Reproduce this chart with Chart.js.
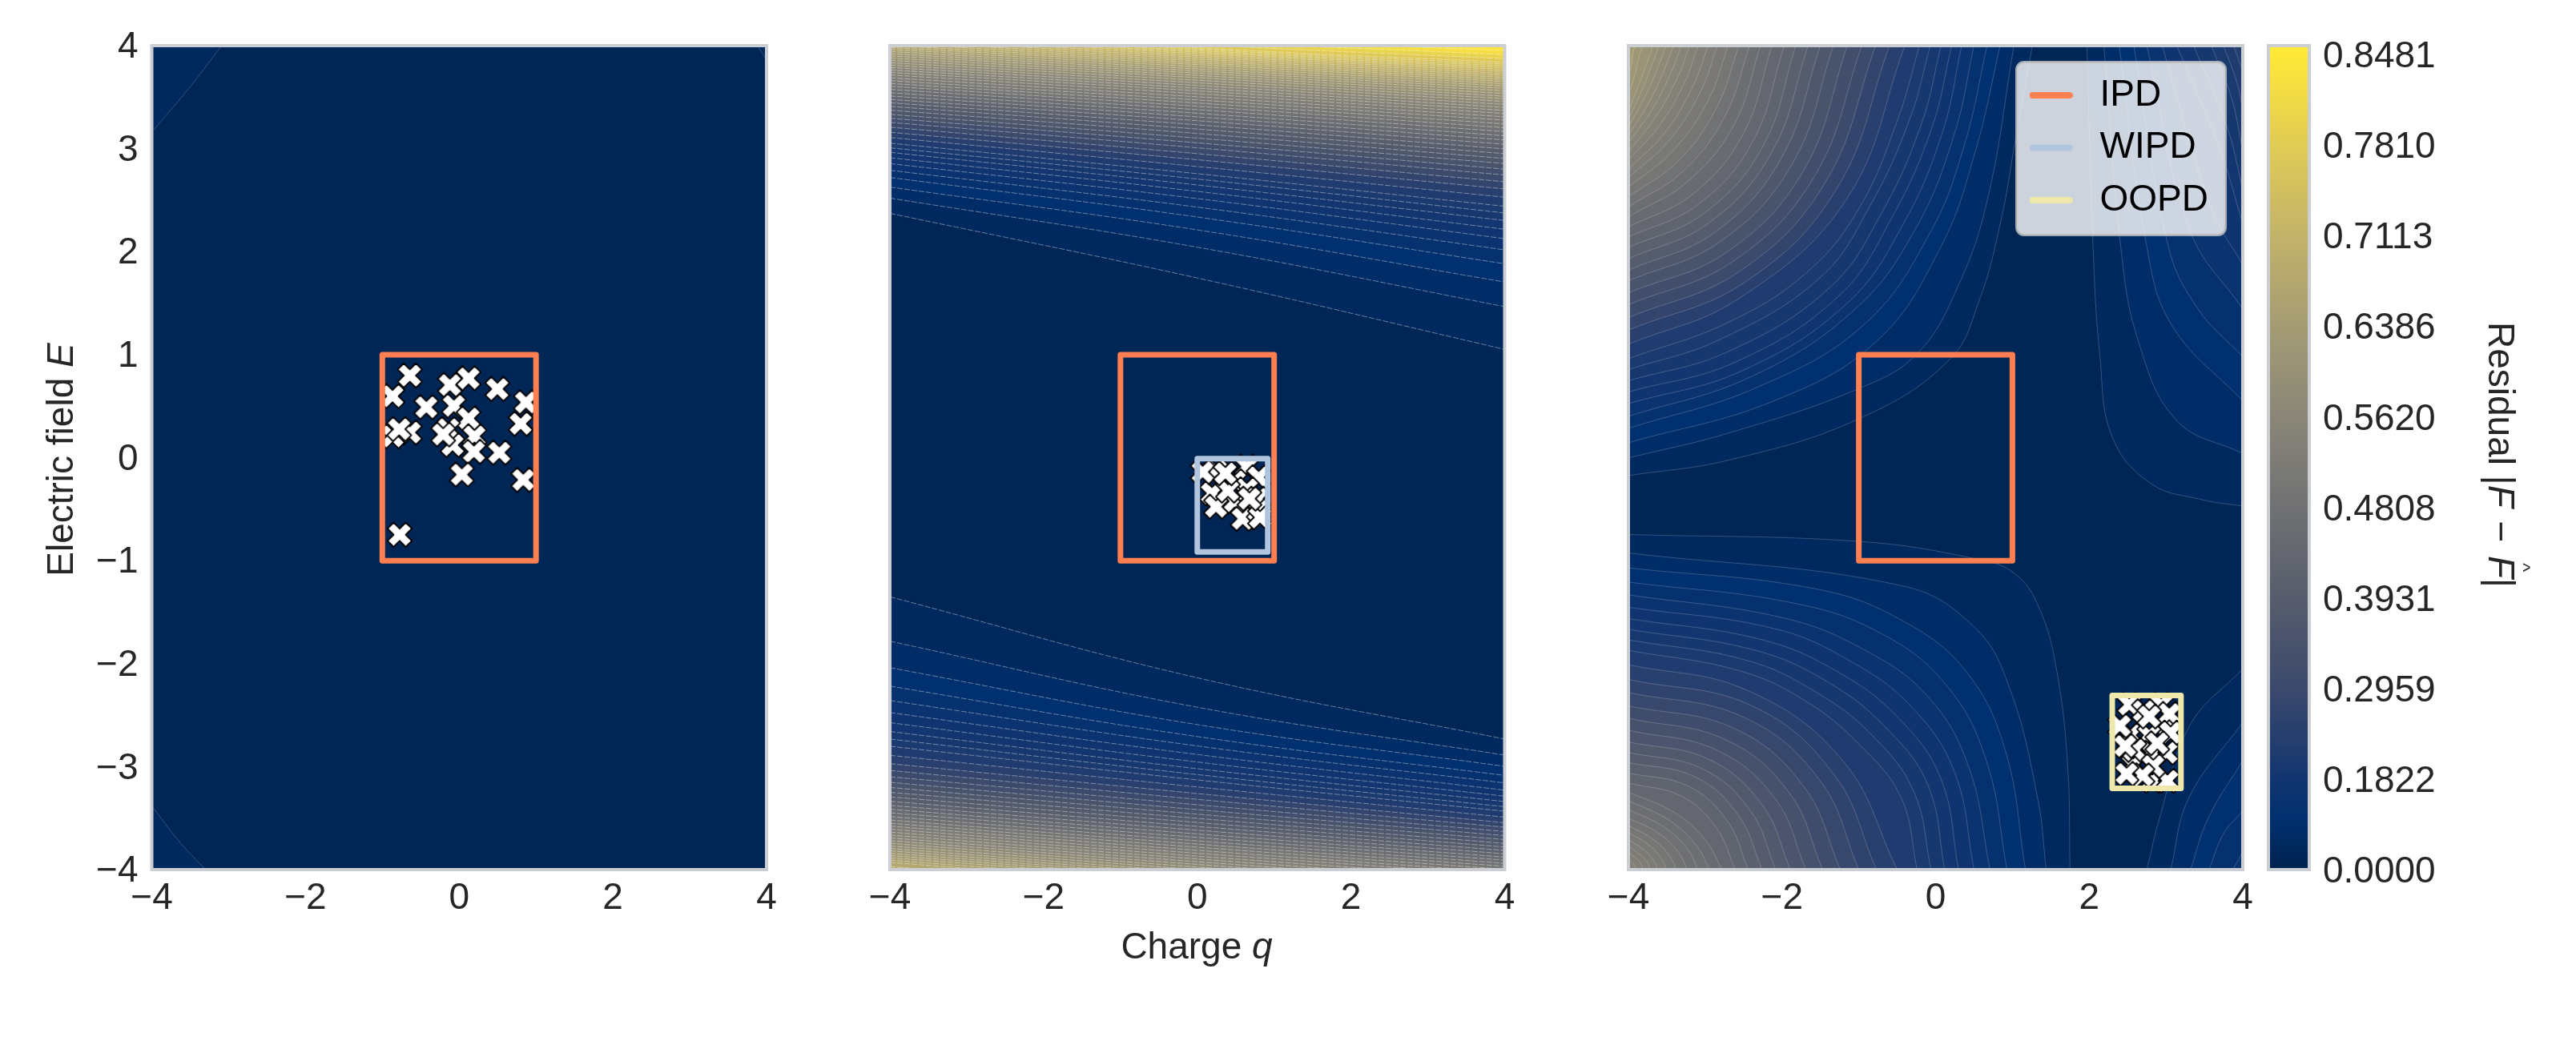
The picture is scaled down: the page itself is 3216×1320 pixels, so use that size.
<!DOCTYPE html>
<html><head><meta charset="utf-8">
<script src="https://cdn.jsdelivr.net/npm/chart.js@4"></script>
<style>html,body{margin:0;padding:0;background:#fff;width:3216px;height:1320px;overflow:hidden}canvas{position:absolute;top:0}</style>
</head><body>
<canvas id="c1" width="1000" height="1320" style="left:0"></canvas>
<canvas id="c2" width="900" height="1320" style="left:1000px"></canvas>
<canvas id="c3" width="870" height="1320" style="left:1950px"></canvas>
<canvas id="c4" width="396" height="1320" style="left:2820px"></canvas>
<script>
// ---------- data ----------
const xTicks = [-4,-2,0,2,4];
const yTicks = [-4,-3,-2,-1,0,1,2,3,4];
const colorbarTicks = ['0.0000','0.1822','0.2959','0.3931','0.4808','0.5620','0.6386','0.7113','0.7810','0.8481'];
const colorbarMax = 0.8545, colorbarGamma = 1.43;
const legendLabels = ['IPD','WIPD','OOPD'];
const baseLevel = 0.015;

// small corner contours of the first panel: [level, q,E, q,E, ...]
const p1TopLeft = [[0.03, -4,3.16, -3.49,3.61, -3.09,4]];
const p1TopRight = [[0.03, 3.88,4, 3.95,3.92, 4,3.85]];
const p1BottomLeft = [[0.03, -4,-3.38, -3.65,-3.72, -3.3,-4]];

// second panel: [level, E at q=-4, E at q=0, E at q=4]
const p2Top = [
[.03,2.372,1.744,1.051],[.045,2.520,2.043,1.466],[.06,2.627,2.211,1.705],[.075,2.720,2.336,1.882],
[.09,2.790,2.432,2.017],[.103,2.855,2.515,2.126],[.115,2.912,2.585,2.217],[.125,2.964,2.647,2.302],
[.136,3.008,2.705,2.375],[.147,3.053,2.757,2.440],[.172,3.108,2.826,2.528],[.2,3.159,2.892,2.609],
[.225,3.208,2.951,2.678],[.25,3.255,3.008,2.744],[.275,3.295,3.056,2.801],[.30,3.333,3.102,2.855],
[.32,3.373,3.147,2.904],[.34,3.411,3.190,2.951],[.365,3.445,3.231,2.997],[.39,3.478,3.271,3.042],
[.41,3.511,3.308,3.084],[.43,3.543,3.343,3.125],[.45,3.575,3.378,3.165],[.47,3.605,3.411,3.203],
[.485,3.633,3.443,3.240],[.50,3.660,3.473,3.276],[.515,3.688,3.503,3.309],[.53,3.715,3.533,3.341],
[.545,3.740,3.561,3.371],[.56,3.764,3.587,3.400],[.575,3.788,3.613,3.429],[.59,3.811,3.639,3.458],
[.605,3.834,3.664,3.484],[.62,3.857,3.689,3.509],[.635,3.879,3.711,3.535],[.65,3.901,3.733,3.561],
[.665,3.922,3.754,3.585],[.68,3.943,3.774,3.608],[.70,3.963,3.795,3.630],[.72,3.982,3.816,3.652],
[.735,4.00,3.834,3.672],[.75,4.02,3.852,3.691],[.765,4.04,3.870,3.711],[.78,4.06,3.888,3.730],
[.80,4.08,3.905,3.750],[.82,4.10,3.922,3.769],[.835,4.12,3.937,3.786],[.85,4.14,3.951,3.803],
[.865,4.16,3.966,3.821],[.88,4.18,3.98,3.839],[.92,4.2,4.01,3.873],[.96,4.26,4.05,3.912],[.99,4.3,4.08,3.951]];
const p2Bottom = [
[.03,-1.351,-2.137,-2.732],[.045,-1.782,-2.423,-2.888],[.06,-2.039,-2.592,-2.997],[.075,-2.218,-2.708,-3.085],
[.09,-2.358,-2.799,-3.158],[.103,-2.475,-2.882,-3.228],[.115,-2.573,-2.955,-3.287],[.125,-2.659,-3.020,-3.339],
[.136,-2.732,-3.077,-3.389],[.147,-2.802,-3.129,-3.433],[.172,-2.89,-3.197,-3.49],[.2,-2.971,-3.261,-3.544],
[.225,-3.037,-3.317,-3.588],[.25,-3.098,-3.370,-3.630],[.275,-3.152,-3.417,-3.670],[.30,-3.202,-3.461,-3.708],
[.32,-3.249,-3.502,-3.745],[.34,-3.293,-3.542,-3.780],[.365,-3.336,-3.580,-3.813],[.39,-3.376,-3.617,-3.846],
[.41,-3.413,-3.653,-3.878],[.43,-3.448,-3.687,-3.908],[.45,-3.484,-3.720,-3.938],[.47,-3.518,-3.752,-3.967],
[.485,-3.549,-3.782,-3.996],[.50,-3.578,-3.812,-4.025],[.515,-3.607,-3.841,-4.05],[.53,-3.635,-3.869,-4.08],
[.545,-3.664,-3.896,-4.11],[.56,-3.692,-3.923,-4.136],[.575,-3.718,-3.949,-4.16],[.59,-3.744,-3.975,-4.19],
[.605,-3.769,-4.0,-4.215],[.62,-3.794,-4.025,-4.24],[.635,-3.817,-4.048,-4.27],[.65,-3.84,-4.07,-4.3],
[.665,-3.862,-4.09,-4.325],[.68,-3.884,-4.11,-4.35],[.70,-3.907,-4.135,-4.375],[.72,-3.93,-4.16,-4.4],[.75,-3.97,-4.2,-4.45]];

// third panel: [level, q,E, q,E, ...]
const p3TopLeft = [
[.03,-4,-.175,-2.67,-.02,-.99,.38,.18,.95,.57,1.53,.85,2.30,1.05,3.13,1.26,4],
[.045,-4,-.003,-2.69,.24,-1,.67,-.24,1.01,.29,1.66,.68,2.52,1.02,4],
[.06,-4,.145,-2.11,.55,-.77,1.13,.07,2.05,.52,2.98,.84,4],
[.075,-4,.284,-2.3,.69,-.92,1.3,-.06,2.2,.38,3.05,.67,4],
[.09,-4,.40,-2.39,.79,-1.05,1.44,-.27,2.21,.24,3.13,.50,4],
[.103,-4,.524,-2.5,.85,-1.15,1.5,-.42,2.27,.09,3.16,.34,4],
[.115,-4,.638,-2.6,.93,-1.26,1.57,-.57,2.33,-.05,3.2,.21,4],
[.125,-4,.746,-2.7,1.03,-1.38,1.65,-.7,2.38,-.18,3.25,.07,4],
[.136,-4,.854,-2.8,1.15,-1.5,1.75,-.85,2.45,-.33,3.3,-.07,4],
[.147,-4,.961,-2.68,1.32,-1.66,1.81,-.99,2.43,-.49,3.29,-.21,4],
[.172,-4,1.10,-2.55,1.55,-1.15,2.52,-.40,4],
[.2,-4,1.238,-2.47,1.71,-1.28,2.62,-.6,4],
[.225,-4,1.36,-2.55,1.81,-1.43,2.68,-.78,4],
[.25,-4,1.485,-2.63,1.91,-1.57,2.74,-.96,4],
[.275,-4,1.60,-2.71,2.0,-1.71,2.8,-1.15,4],
[.30,-4,1.716,-2.8,2.10,-1.86,2.86,-1.33,4],
[.325,-4,1.82,-2.87,2.19,-2.0,2.92,-1.5,4],
[.35,-4,1.931,-2.95,2.28,-2.13,2.97,-1.66,4],
[.37,-4,2.04,-3.02,2.37,-2.25,3.02,-1.82,4],
[.39,-4,2.141,-3.09,2.46,-2.38,3.07,-1.97,4],
[.41,-4,2.24,-3.16,2.56,-2.5,3.15,-2.13,4],
[.43,-4,2.338,-3.23,2.68,-2.62,3.24,-2.28,4],
[.45,-4,2.435,-3.29,2.78,-2.74,3.32,-2.42,4],
[.47,-4,2.532,-3.35,2.88,-2.85,3.4,-2.56,4],
[.485,-4,2.625,-3.42,2.98,-2.96,3.47,-2.70,4],
[.50,-4,2.717,-3.48,3.07,-3.07,3.54,-2.84,4],
[.515,-4,2.80,-3.53,3.15,-3.17,3.59,-2.96,4],
[.53,-4,2.886,-3.59,3.23,-3.27,3.64,-3.09,4],
[.545,-4,2.97,-3.64,3.31,-3.36,3.69,-3.2,4],
[.56,-4,3.056,-3.69,3.38,-3.45,3.73,-3.31,4],
[.575,-4,3.13,-3.73,3.45,-3.53,3.77,-3.41,4],
[.59,-4,3.21,-3.78,3.51,-3.61,3.80,-3.51,4],
[.605,-4,3.29,-3.82,3.57,-3.68,3.84,-3.6,4],
[.62,-4,3.363,-3.86,3.63,-3.74,3.87,-3.68,4],
[.64,-4,3.517,-3.91,3.73,-3.85,3.92,-3.81,4],
[.66,-4,3.671,-3.96,3.82,-3.93,3.96,-3.91,4]];
const p3BottomLeft = [
[.03,-4,-.746,-.99,-.814,.51,-.98,1.02,-1.12,1.35,-1.46,1.58,-2.08,1.72,-3,1.75,-4],
[.045,-4,-.925,-.43,-1.245,.51,-1.65,.96,-2.23,1.33,-3.31,1.44,-4],
[.06,-4,-1.07,-1.55,-1.276,-.43,-1.584,.4,-2.08,.91,-2.85,1.17,-4],
[.075,-4,-1.208,-1.83,-1.415,-.71,-1.707,.13,-2.2,.66,-2.94,.93,-4],
[.09,-4,-1.332,-2,-1.553,-.94,-1.861,-.1,-2.32,.43,-3,.71,-4],
[.103,-4,-1.452,-2.1,-1.66,-1.1,-1.98,-.3,-2.43,.25,-3.06,.5,-4],
[.115,-4,-1.563,-2.25,-1.77,-1.25,-2.09,-.48,-2.53,.07,-3.12,.3,-4],
[.125,-4,-1.667,-2.35,-1.87,-1.4,-2.18,-.65,-2.62,-.1,-3.18,.12,-4],
[.136,-4,-1.769,-2.45,-1.97,-1.55,-2.28,-.82,-2.7,-.28,-3.25,-.06,-4],
[.147,-4,-1.871,-2.55,-2.07,-1.7,-2.36,-1,-2.78,-.45,-3.3,-.24,-4],
[.17,-4,-2.01,-2.45,-2.26,-1.2,-2.95,-.5,-4],
[.19,-4,-2.154,-2.39,-2.41,-1.32,-3.08,-.77,-4],
[.215,-4,-2.28,-2.5,-2.52,-1.5,-3.14,-1.0,-4],
[.24,-4,-2.41,-2.62,-2.63,-1.71,-3.2,-1.24,-4],
[.265,-4,-2.53,-2.73,-2.74,-1.9,-3.26,-1.47,-4],
[.29,-4,-2.647,-2.85,-2.84,-2.08,-3.32,-1.69,-4],
[.31,-4,-2.76,-2.95,-2.93,-2.25,-3.38,-1.89,-4],
[.33,-4,-2.862,-3.04,-3.02,-2.41,-3.43,-2.08,-4],
[.35,-4,-2.96,-3.13,-3.1,-2.56,-3.48,-2.26,-4],
[.37,-4,-3.062,-3.22,-3.19,-2.71,-3.53,-2.44,-4],
[.39,-4,-3.16,-3.3,-3.29,-2.85,-3.6,-2.61,-4],
[.41,-4,-3.247,-3.39,-3.45,-2.99,-3.72,-2.78,-4],
[.425,-4,-3.33,-3.47,-3.52,-3.12,-3.76,-2.94,-4],
[.44,-4,-3.417,-3.55,-3.58,-3.24,-3.79,-3.09,-4],
[.455,-4,-3.5,-3.62,-3.64,-3.36,-3.82,-3.23,-4],
[.47,-4,-3.571,-3.69,-3.7,-3.48,-3.85,-3.37,-4],
[.485,-4,-3.64,-3.75,-3.75,-3.58,-3.88,-3.5,-4],
[.495,-4,-3.709,-3.81,-3.8,-3.68,-3.9,-3.62,-4],
[.505,-4,-3.77,-3.86,-3.85,-3.76,-3.92,-3.72,-4],
[.515,-4,-3.832,-3.9,-3.89,-3.84,-3.94,-3.81,-4],
[.525,-4,-3.9,-3.95,-3.93,-3.92,-3.96,-3.9,-4]];
const p3TopRight = [
[.03,1.97,4,2.05,2.05,2.14,.98,2.3,.2,2.8,-.25,3.48,-.41,4,-.47],
[.045,2.19,4,2.41,2.05,2.64,1.13,3.14,.36,4,.04],
[.06,2.39,4,2.75,2.05,3.08,1.28,4,.55],
[.075,2.58,4,3.03,2.05,3.42,1.44,4,.98],
[.09,2.75,4,3.31,2.21,4,1.44],
[.103,2.95,4,3.59,2.42,4,1.87],
[.115,3.14,4,3.7,3,4,2.27],
[.125,3.36,4,3.8,3.2,4,2.6],
[.136,3.59,4,3.85,3.5,4,2.98],
[.147,3.75,4,3.92,3.65,4,3.38],
[.16,3.88,4,4,3.75]];
const p3BottomRight = [
[.03,2.75,-4,2.92,-3.49,3.31,-2.6,4,-2.05],
[.045,3.06,-4,3.3,-3.3,4,-2.57],
[.06,3.32,-4,3.55,-3.5,4,-2.94],
[.075,3.56,-4,3.75,-3.65,4,-3.43],
[.09,3.87,-4,4,-3.83]];

// boxes: q-low, q-high, E-low, E-high
const boxIPD = [-1,1,-1,1];
const boxWIPD = [0,.917,-.915,-.01];
const boxOOPD = [2.3,3.195,-3.21,-2.31];

// samples
const p1Q = [-.642,-.868,-.121,.122,.497,.869,-.427,-.069,.122,.80,-.642,-.868,-.145,.199,-.086,.192,.522,.035,.834,-.774,-.781,-.208];
const p1E = [.797,.597,.706,.771,.667,.537,.490,.503,.381,.329,.244,.207,.277,.207,.122,.057,.049,-.164,-.216,-.748,.277,.225];
const p2Q = [.243,.191,.07,.487,.591,.643,.799,.487,.643,.782,.799,.243,.4,.816,.365,.678];
const p2E = [-.126,-.346,-.139,-.424,-.593,-.087,-.19,-.229,-.307,-.398,-.515,-.476,-.32,-.58,-.152,-.398];
const p3Q = [2.521,2.938,3.042,2.538,2.781,2.399,2.573,2.823,3.018,3.007,2.816,2.59,2.834,2.712,3.042,3.06,2.781,2.469,2.886,2.694,2.486];
const p3E = [-2.397,-2.397,-2.604,-2.695,-2.695,-2.604,-2.98,-3.137,-3.137,-2.864,-2.864,-2.838,-2.994,-2.462,-2.488,-2.67,-2.513,-2.799,-2.773,-3.085,-3.07];

// cividis colour stops [fraction, hex]
const cividisStops = [[0,'#00224e'],[.06,'#00306f'],[.111,'#123570'],[.222,'#3b496c'],[.333,'#575d6d'],[.444,'#707173'],[.556,'#8a8678'],[.667,'#a59c74'],[.778,'#c3b369'],[.889,'#e1cc55'],[1,'#fee838']];

// ---------- helpers ----------
const FONT = '"Liberation Sans", Arial, sans-serif';
const TEXT = '#262626', SPINE = '#cbced3';
const FS = 46;
const coral = '#ff7f50', steel = '#b0c4de', golden = '#eee8aa';
Chart.defaults.font.family = FONT;

function hexRgb(h){return [1,3,5].map(i=>parseInt(h.substr(i,2),16));}
function cividis(t){
  t=Math.max(0,Math.min(1,t));
  for(let i=1;i<cividisStops.length;i++){
    if(t<=cividisStops[i][0]){
      const a=cividisStops[i-1],b=cividisStops[i],f=(t-a[0])/(b[0]-a[0]);
      const A=hexRgb(a[1]),B=hexRgb(b[1]);
      return 'rgb('+A.map((v,j)=>Math.round(v+(B[j]-v)*f)).join(',')+')';
    }
  }
  return cividisStops[cividisStops.length-1][1];
}
function pairs(row){const o=[];for(let i=1;i<row.length;i+=2)o.push({x:row[i],y:row[i+1]});return o;}
function threePoint(row){return [{x:-4,y:row[1]},{x:0,y:row[2]},{x:4,y:row[3]}];}
function band(t,pts,fill,seam,dash){
  return {type:'scatter',showLine:true,data:pts,fill:fill,backgroundColor:cividis(t),borderColor:seam,borderWidth:1,borderDash:dash||[],
    pointRadius:0,tension:.4,capBezierPoints:false,order:1000-Math.round(t*900)};
}
function bands(rows,fn,fill,seam,dash){return rows.map(r=>band(r[0],fn(r),fill,seam,dash));}
function base(){return {type:'scatter',showLine:true,data:[{x:-4,y:-4},{x:4,y:-4}],fill:'end',backgroundColor:cividis(baseLevel),borderWidth:0,pointRadius:0,order:2000};}
function box(b,color,label){
  return {type:'scatter',showLine:true,label:label,data:[{x:b[0],y:b[2]},{x:b[1],y:b[2]},{x:b[1],y:b[3]},{x:b[0],y:b[3]},{x:b[0],y:b[2]}],
    fill:false,borderColor:color,borderWidth:7,borderJoinStyle:'round',borderCapStyle:'round',pointRadius:0,tension:0,order:1};
}
function xMarker(){
  const c=document.createElement('canvas');c.width=c.height=40;const g=c.getContext('2d');
  const u=7.6,m=20;const v=[[-1,-2],[0,-1],[1,-2],[2,-1],[1,0],[2,1],[1,2],[0,1],[-1,2],[-2,1],[-1,0],[-2,-1]];
  g.beginPath();v.forEach((p,i)=>{const x=m+p[0]*u,y=m+p[1]*u;i?g.lineTo(x,y):g.moveTo(x,y);});g.closePath();
  g.fillStyle='#fff';g.fill();g.strokeStyle='#000';g.lineWidth=2;g.lineJoin='round';g.stroke();return c;
}
const markerImg = xMarker();
function markers(qs,es){
  return {type:'scatter',data:qs.map((q,i)=>({x:q,y:es[i]})),pointStyle:markerImg,pointRadius:15,showLine:false,order:5};
}
function handle(color){
  const c=document.createElement('canvas');c.width=54;c.height=10;const g=c.getContext('2d');
  g.strokeStyle=color;g.lineWidth=8;g.lineCap='round';g.beginPath();g.moveTo(4,5);g.lineTo(50,5);g.stroke();return c;
}
function drawRuns(ctx,runs,x,y,rot,center){
  ctx.save();ctx.translate(x,y);ctx.rotate(rot);ctx.fillStyle=TEXT;ctx.textBaseline='alphabetic';ctx.textAlign='left';
  const f=i=>(i?'italic ':'')+FS+'px '+FONT;
  let w=0;runs.forEach(r=>{ctx.font=f(r.i);w+=ctx.measureText(r.t).width;});
  let cx=center?-w/2:0;
  runs.forEach(r=>{
    ctx.font=f(r.i);ctx.fillText(r.t,cx,0);
    const tw=ctx.measureText(r.t).width;
    if(r.hat){ctx.font='24px '+FONT;ctx.fillText('^',cx+tw/2-5,-35);}
    cx+=tw;
  });
  ctx.restore();
}
const framePlugin={id:'frame',afterDraw(chart){
  const a=chart.chartArea,g=chart.ctx;g.save();g.strokeStyle=SPINE;g.lineWidth=4;g.strokeRect(a.left,a.top,a.right-a.left,a.bottom-a.top);g.restore();
  const d=chart.options.plugins.frame||{};
  if(d.runs) drawRuns(g,d.runs,d.x,d.y,d.rot||0,true);
}};
function fmt(v){return v<0?'\u2212'+Math.abs(v):String(v);}
function panel(id,canvasW,left,right,datasets,showY,frameText,extra){
  const opts={
    responsive:false,animation:false,devicePixelRatio:1,
    layout:{padding:{left:0,right:canvasW-right,top:57,bottom:0}},
    plugins:{tooltip:{enabled:false},legend:{display:false},frame:frameText||{}},
    scales:{
      x:{type:'linear',min:-4,max:4,grid:{display:false,drawTicks:false},border:{display:false},
        afterBuildTicks(s){s.ticks=xTicks.map(v=>({value:v}));},
        ticks:{color:TEXT,font:{size:FS},padding:9,maxRotation:0,autoSkip:false,callback:fmt},
        afterFit(s){s.height=234;s.paddingLeft=0;s.paddingRight=0;}},
      y:{type:'linear',min:-4,max:4,grid:{display:false,drawTicks:false},border:{display:false},
        afterBuildTicks(s){s.ticks=yTicks.map(v=>({value:v}));},
        ticks:{display:showY,color:TEXT,font:{size:FS},padding:17,labelOffset:2.5,autoSkip:false,callback:fmt},
        afterFit(s){s.width=left;s.paddingTop=0;s.paddingBottom=0;}}
    }
  };
  if(extra) extra(opts);
  return new Chart(document.getElementById(id),{type:'scatter',data:{datasets},options:opts,plugins:[framePlugin].concat(extra&&extra.plugins||[])});
}
const seamA='rgba(255,255,255,.2)', seamB='rgba(255,255,255,.4)';

// panel 1
panel('c1',1000,189.5,957,[
  box(boxIPD,coral,'IPD'),markers(p1Q,p1E),
  ...bands(p1TopLeft,pairs,'end',seamA),...bands(p1TopRight,pairs,'end',seamA),...bands(p1BottomLeft,pairs,'start',seamA),
  base()
],true,{runs:[{t:'Electric field '},{t:'E',i:1}],x:91,y:574,rot:-Math.PI/2});

// panel 2
panel('c2',900,111,878.5,[
  box(boxIPD,coral,'IPD'),box(boxWIPD,steel,'WIPD'),markers(p2Q,p2E),
  ...bands(p2Top,threePoint,'end',seamB,[7,2]),...bands(p2Bottom,threePoint,'start',seamB,[7,2]),
  base()
],false,{runs:[{t:'Charge '},{t:'q',i:1}],x:494,y:1197,rot:0});

// panel 3 with legend
const legendHandles=[handle(coral),handle(steel),handle(golden)];
const legendPlugin={id:'legendPlacer',beforeLayout(chart){
  const lg=chart.legend;if(!lg)return;
  lg._layers=()=>[{z:10,draw(){
    const g=chart.ctx,L=568,T=78,W=260,H=215,R=9;
    g.save();g.globalAlpha=.8;g.beginPath();g.roundRect(L,T,W,H,R);g.fillStyle='#fff';g.fill();g.strokeStyle='#ccc';g.lineWidth=4;g.stroke();g.restore();
    lg.left=553;lg.right=850;lg.top=76.5;lg.bottom=400;lg.width=297;lg.height=323.5;
    lg.draw();
  }}];
}};
const legendExtra=o=>{o.plugins.legend={display:true,position:'chartArea',align:'start',
  labels:{usePointStyle:true,pointStyleWidth:76,boxHeight:46,color:TEXT,font:{size:FS},padding:19.5,
    generateLabels:()=>legendLabels.map((t,i)=>({text:t,pointStyle:legendHandles[i],fillStyle:'#000',strokeStyle:'#000',lineWidth:0,hidden:false,datasetIndex:0}))}};};
legendExtra.plugins=[legendPlugin];
panel('c3',870,83,850,[
  box(boxIPD,coral,'IPD'),box(boxOOPD,golden,'OOPD'),markers(p3Q,p3E),
  ...bands(p3TopLeft,pairs,'end',seamA),...bands(p3BottomLeft,pairs,'start',seamA),
  ...bands(p3TopRight,pairs,'end',seamA),...bands(p3BottomRight,pairs,'start',seamA),
  base()
],false,null,legendExtra);

// colorbar
const colorbarFrac=v=>Math.pow(parseFloat(v)/colorbarMax,colorbarGamma);
new Chart(document.getElementById('c4'),{type:'bar',
  data:{labels:['residual'],datasets:[{data:[[0,1]],barPercentage:1,categoryPercentage:1,borderWidth:0,
    backgroundColor(ctx){
      const a=ctx.chart.chartArea;if(!a)return '#888';
      const g=ctx.chart.ctx.createLinearGradient(0,a.bottom,0,a.top);
      cividisStops.forEach(s=>g.addColorStop(s[0]*.99,s[1]));g.addColorStop(1,'#fee838');return g;
    }}]},
  options:{responsive:false,animation:false,devicePixelRatio:1,
    layout:{padding:{left:12,right:0,top:57,bottom:234}},
    plugins:{tooltip:{enabled:false},legend:{display:false},frame:{runs:[{t:'Residual |'},{t:'F',i:1},{t:'\u200a \u2212 \u200a'},{t:'F',i:1,hat:true},{t:'|'}],x:287,y:568,rot:Math.PI/2}},
    scales:{
      x:{display:false,offset:true},
      y:{position:'right',min:0,max:1,grid:{display:false,drawTicks:false},border:{display:false},
        afterBuildTicks(s){s.ticks=colorbarTicks.map(v=>({value:colorbarFrac(v)}));},
        ticks:{color:TEXT,font:{size:FS},padding:17,labelOffset:3,autoSkip:false,callback:(v,i)=>colorbarTicks[i]},
        afterFit(s){s.width=333;s.paddingTop=0;s.paddingBottom=0;}}
    }},
  plugins:[framePlugin]});
</script>
</body></html>
